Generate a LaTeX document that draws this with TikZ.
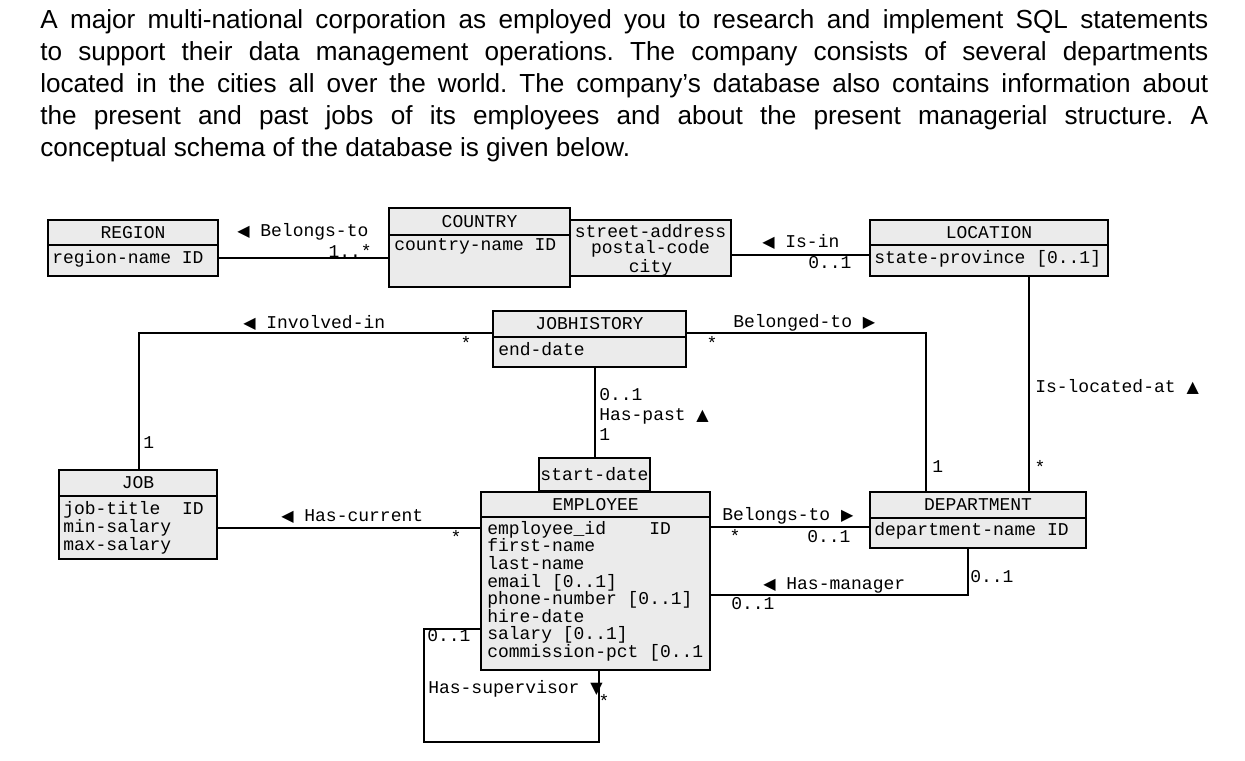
\documentclass[tikz,border=0pt]{standalone}
\usepackage{fontspec}
\setmainfont{Liberation Sans}
\newfontfamily\mono{Liberation Mono}
\newfontfamily\sym{DejaVu Sans}
\usetikzlibrary{fit,positioning}
\definecolor{boxfill}{HTML}{EBEBEB}
\begin{document}
\frenchspacing
\begin{tikzpicture}[x=0.75pt,y=-0.75pt,
  box/.style={draw,fill=boxfill,inner sep=0pt,line width=0.8pt},
  txt/.style={inner sep=0pt,font=\mono\fontsize{13.5}{13.2}\selectfont,align=left},
  conn/.style={line width=0.8pt}]
\useasboundingbox (0,0) rectangle (1245,760);
\node[anchor=north west,inner sep=0pt,text width=876pt,font=\fontsize{19.6}{24}\selectfont,align=justify] (para) at (40,9)
{A major multi-national corporation as employed you to research and implement SQL statements\linebreak
to support their data management operations. The company consists of several departments\linebreak
located in the cities all over the world. The company's database also contains information about\linebreak
the present and past jobs of its employees and about the present managerial structure. A\linebreak
conceptual schema of the database is given below.};
\newcommand{\tri}[1]{{\sym\fontsize{12}{12}\selectfont #1}}
% boxes
\node[box,fit={(48,220)(218,245)}] (rh) {};
\node[txt] at (rh.center) {REGION};
\node[box,fit={(48,245)(218,276)}] (rb) {};
\node[txt,anchor=west] (rbt) at (52,259) {region-name ID};
\node[box,fit={(389,208)(570,235)}] (ch) {};
\node[txt] at (ch.center) {COUNTRY};
\node[box,fit={(389,235)(570,287)}] (cb) {};
\node[txt,anchor=west] (cbt) at (394,246) {country-name ID};
\node[box,fit={(570,220)(731,276)}] (ab) {};
\begin{scope}
\clip (570,220) rectangle (731,276);
\node[txt,align=center,anchor=north,font=\mono\fontsize{13.5}{12.5}\selectfont] at (650.5,224) {street-address\\postal-code\\city};
\end{scope}
\node[box,fit={(870,220)(1108,245)}] (lh) {};
\node[txt] at (lh.center) {LOCATION};
\node[box,fit={(870,245)(1108,276)}] (lb) {};
\node[txt,anchor=west] (lbt) at (874,259) {state-province [0..1]};
\node[box,fit={(493,311)(686,337)}] (jhh) {};
\node[txt] at (jhh.center) {JOBHISTORY};
\node[box,fit={(493,337)(686,367)}] (jhb) {};
\node[txt,anchor=west] (jhbt) at (498,349) {end-date};
\node[box,fit={(539,458)(650,491)}] (sd) {};
\node[txt] at (sd.center) {start-date};
\node[box,fit={(59,470)(217,496)}] (jh) {};
\node[txt] at (jh.center) {JOB};
\node[box,fit={(59,496)(217,559)}] (jb) {};
\node[txt,anchor=north west,font=\mono\fontsize{13.5}{10.5}\selectfont] (jbt) at (63,501) {job-title\ \ ID\\min-salary\\max-salary};
\node[box,fit={(481,492)(710,517)}] (eh) {};
\node[txt] at (eh.center) {EMPLOYEE};
\node[box,fit={(481,517)(710,670)}] (eb) {};
\node[txt,anchor=north west,font=\mono\fontsize{13.5}{13.2}\selectfont] (ebt) at (487,521)
{employee\_id\ \ \ \ ID\\first-name\\last-name\\email [0..1]\\phone-number [0..1]\\hire-date\\salary [0..1]\\commission-pct [0..1};
\node[box,fit={(870,492)(1086,518)}] (dh) {};
\node[txt] at (dh.center) {DEPARTMENT};
\node[box,fit={(870,518)(1086,548)}] (db) {};
\node[txt,anchor=west] (dbt) at (874,531) {department-name ID};
% connectors
\draw[conn] (rb.east |- 0,258) -- (cb.west |- 0,258);
\draw[conn] (ab.east |- 0,255) -- (lb.west |- 0,255);
\draw[conn] (jh.north -| 139,0) |- (jhh.west |- 0,333);
\draw[conn] (jhh.east |- 0,333) -| (dh.north -| 926,0);
\draw[conn] (lb.south -| 1029,0) -- (dh.north -| 1029,0);
\draw[conn] (jhb.south -| 595,0) -- (sd.north -| 595,0);
\draw[conn] (jb.east |- 0,528) -- (eb.west |- 0,528);
\draw[conn] (eb.east |- 0,527) -- (db.west |- 0,527);
\draw[conn] (eb.east |- 0,595) -| (db.south -| 968,0);
\draw[conn] (eb.west |- 0,629) -| (424,742) -| (eb.south -| 599,0);
% labels
\node[txt,anchor=west] at (237,232) {\tri{◀} Belongs-to};
\node[txt,anchor=east] at (372,251) {1..*};
\node[txt,anchor=west] at (762,242) {\tri{◀} Is-in};
\node[txt,anchor=west] at (808,263) {0..1};
\node[txt,anchor=west] at (243,323) {\tri{◀} Involved-in};
\node[txt] at (466,343) {*};
\node[txt,anchor=west] at (143,443) {1};
\node[txt,anchor=west] at (733,323) {Belonged-to \tri{▶}};
\node[txt] at (712,343) {*};
\node[txt,anchor=west] at (932,467) {1};
\node[txt,anchor=west] at (1035,387) {Is-located-at \tri{▲}};
\node[txt] at (1040,467) {*};
\node[txt,anchor=west] at (599,395) {0..1};
\node[txt,anchor=west] at (599,416) {Has-past \tri{▲}};
\node[txt,anchor=west] at (599,435) {1};
\node[txt,anchor=west] at (281,516) {\tri{◀} Has-current};
\node[txt] at (456,537) {*};
\node[txt,anchor=west] at (722,516) {Belongs-to \tri{▶}};
\node[txt] at (735,536) {*};
\node[txt,anchor=west] at (807,537) {0..1};
\node[txt,anchor=west] at (763,585) {\tri{◀} Has-manager};
\node[txt,anchor=west] at (731,604) {0..1};
\node[txt,anchor=west] at (970,577) {0..1};
\node[txt,anchor=west] at (427,636) {0..1};
\node[txt,anchor=west] at (428,689) {Has-supervisor \tri{▼}};
\node[txt] at (604,701) {*};
\end{tikzpicture}
\end{document}
